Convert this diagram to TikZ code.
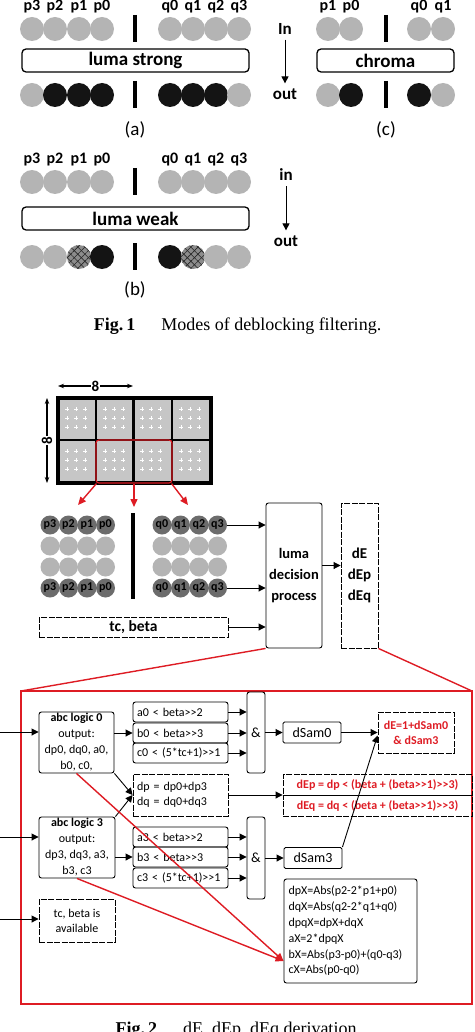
\documentclass[tikz,border=0pt]{standalone}
\usepackage{fontspec}
\setmainfont{Carlito}
\newfontfamily\capserif{Liberation Serif}
\usetikzlibrary{arrows.meta,patterns.meta}
\definecolor{lgray}{RGB}{180,180,180}
\definecolor{cellgray}{RGB}{198,198,198}
\definecolor{dgray}{RGB}{108,108,108}
\definecolor{hgray}{RGB}{140,140,140}
\definecolor{zred}{RGB}{222,28,36}
\newcommand{\fs}[1]{\fontsize{#1}{#1}\selectfont}
\newcommand{\shiftr}{>\kern0pt>}
\tikzset{
  smp/.style={circle,minimum size=24pt,inner sep=0pt,fill=lgray},
  smpblack/.style={smp,fill=black!92},
  smphatch/.style={smp,fill=hgray,
    postaction={pattern={Lines[angle=45,distance=5pt,line width=0.6pt]},pattern color=black!85},
    postaction={pattern={Lines[angle=-45,distance=5pt,line width=0.6pt]},pattern color=black!85}},
  pix/.style={circle,minimum size=19pt,inner sep=0pt,fill=lgray,font=\bfseries\fs{12}},
  pixdark/.style={pix,fill=dgray},
  edgebar/.style={line width=4.5pt},
  lbl/.style={inner sep=0pt,font=\bfseries\fs{16}},
  modebox/.style={draw,line width=1.3pt,rounded corners=4pt,minimum height=23pt,inner sep=0pt,font=\bfseries\fs{19}},
  sub/.style={inner sep=0pt,font=\fs{19}},
  flow/.style={-{Triangle[length=7pt,width=7pt]},line width=0.9pt},
  blk/.style={draw,line width=0.9pt,rounded corners=2.5pt,inner sep=0pt,align=center,font=\fs{12}},
  dblk/.style={blk,dash pattern=on 6pt off 1.5pt,sharp corners},
  cond/.style={blk,minimum width=95pt,minimum height=20pt,text width=87pt,align=left},
  gate/.style={blk,minimum width=18pt,font=\fs{14}},
  redline/.style={draw=zred,line width=1.4pt},
  redflow/.style={-{Triangle[length=8pt,width=7pt]},draw=zred,fill=zred,line width=1.4pt}
}
\begin{document}
\begin{tikzpicture}[x=1pt,y=-1pt]
\useasboundingbox (0,0) rectangle (474,1032);
% (a) luma strong
\foreach \n/\x in {p3/32,p2/55,p1/79,p0/102,q0/170,q1/193,q2/216,q3/239}
  \node[lbl] (al\n) at (\x,7) {\n};
\foreach \n/\x in {p3/32,p2/55,p1/79,p0/102,q0/170,q1/193,q2/216,q3/239}
  \node[smp] (ai\n) at (\x,29) {};
\foreach \n/\x/\s in {p3/32/smp,p2/55/smpblack,p1/79/smpblack,p0/102/smpblack,q0/170/smpblack,q1/193/smpblack,q2/216/smpblack,q3/239/smp}
  \node[\s] (ao\n) at (\x,95) {};
\draw[edgebar] (135,15) -- (135,42);
\draw[edgebar] (135,81) -- (135,108);
\node[modebox,minimum width=227pt] (strong) at (135.5,60.5) {luma strong};
\node[sub] (capa) at (135,130) {(a)};
\node[lbl,font=\bfseries\fs{17}] (ain) at (285,29) {In};
\node[lbl,font=\bfseries\fs{17}] (aout) at (285,94) {out};
\draw[flow,shorten <=5pt,shorten >=5pt] (ain) -- (aout);
% (c) chroma
\foreach \n/\x in {p1/328,p0/351,q0/419,q1/443}
  \node[lbl] (cl\n) at (\x,7) {\n};
\foreach \n/\x in {p1/328,p0/351,q0/419,q1/443}
  \node[smp] (ci\n) at (\x,29) {};
\foreach \n/\x/\s in {p1/328/smp,p0/351/smpblack,q0/419/smpblack,q1/443/smp}
  \node[\s] (co\n) at (\x,95) {};
\draw[edgebar] (386,15) -- (386,42);
\draw[edgebar] (386,81) -- (386,108);
\node[modebox,minimum width=137pt] (chroma) at (385.5,60.5) {chroma};
\node[sub] (capc) at (386,130) {(c)};
% (b) luma weak
\foreach \n/\x in {p3/32,p2/55,p1/79,p0/102,q0/170,q1/193,q2/216,q3/239}
  \node[lbl] (bl\n) at (\x,160) {\n};
\foreach \n/\x in {p3/32,p2/55,p1/79,p0/102,q0/170,q1/193,q2/216,q3/239}
  \node[smp] (bi\n) at (\x,182) {};
\foreach \n/\x/\s in {p3/32/smp,p2/55/smp,p1/79/smphatch,p0/102/smpblack,q0/170/smpblack,q1/193/smphatch,q2/216/smp,q3/239/smp}
  \node[\s] (bo\n) at (\x,257) {};
\draw[edgebar] (135,168) -- (135,195);
\draw[edgebar] (135,243) -- (135,270);
\node[modebox,minimum width=227pt] (weak) at (135.5,218.5) {luma weak};
\node[sub] (capb) at (135,290) {(b)};
\node[lbl,font=\bfseries\fs{17}] (bin) at (286,175) {in};
\node[lbl,font=\bfseries\fs{17}] (bout) at (286,241) {out};
\draw[flow,shorten <=5pt,shorten >=5pt] (bin) -- (bout);
\node[font=\capserif\fs{18}] (cap1) at (237.5,326) {\textbf{Fig.\,1}\hspace{26pt}Modes of deblocking filtering.};
% 8x8 blocks
\fill[cellgray] (58,398) rectangle (211,483);
\foreach \cx in {58,96,133,172}
  \foreach \cy in {398,440}
    \foreach \dx in {9,18,27}
      \foreach \dy in {11,20,29}
        \draw[white,line width=0.9pt] (\cx+\dx-1.8,\cy+\dy) -- ++(3.6,0) (\cx+\dx,\cy+\dy-1.8) -- ++(0,3.6);
\draw[line width=1.3pt] (96,398) -- (96,483) (172,398) -- (172,483) (58,440) -- (211,440);
\draw[line width=3pt] (133,398) -- (133,483);
\draw[line width=4pt] (58,398) rectangle (211,483);
\node[draw=zred,line width=1.2pt,rounded corners=3pt,minimum width=76pt,minimum height=43pt,inner sep=0pt] (sel) at (134,461.5) {};
\draw[{Stealth[length=6pt]}-{Stealth[length=6pt]},line width=1.1pt] (58,386) -- node[fill=white,inner sep=1pt,font=\bfseries\fs{15}] (w8) {8} (133,386);
\draw[{Stealth[length=6pt]}-{Stealth[length=6pt]},line width=1.1pt] (47,398) -- node[fill=white,inner sep=1pt,rotate=90,font=\bfseries\fs{15}] (h8) {8} (47,483);
\coordinate (selL) at (78,505);
\coordinate (selM) at (134,507);
\coordinate (selR) at (188,505);
\draw[redflow] ([xshift=1pt]sel.south west) -- (selL);
\draw[redflow] (sel.south) -- (selM);
\draw[redflow] ([xshift=-1pt]sel.south east) -- (selR);
% samples across the edge
\foreach \n/\x in {p3/50,p2/68.5,p1/87,p0/105.5,q0/162,q1/180.5,q2/199,q3/217.5} {
  \node[pix] (sb\n) at (\x,546) {};
  \node[pix] (sc\n) at (\x,567) {};
  \node[pixdark] (sa\n) at (\x,525) {\n};
  \node[pixdark] (sd\n) at (\x,588) {\n};
}
\draw[edgebar] (133,513) -- (133,599);
\node[dblk,minimum width=189pt,minimum height=20pt,font=\bfseries\fs{15.5}] (tcb) at (133.5,627) {tc, beta};
\node[blk,minimum width=56pt,minimum height=145pt,text width=56pt,font=\bfseries\fontsize{14.5}{21}\selectfont] (luma) at (294,575.5) {luma\\decision\\process};
\node[dblk,minimum width=37pt,minimum height=145pt,text width=37pt,font=\bfseries\fontsize{15}{21}\selectfont] (dout) at (359.5,575.5) {dE\\dEp\\dEq};
\draw[flow] (saq3.east) -- (saq3.east -| luma.west);
\draw[flow] (sdq3.east) -- (sdq3.east -| luma.west);
\draw[flow] (tcb.east) -- (tcb.east -| luma.west);
\draw[flow] ([yshift=10pt]luma.east) -- ([yshift=10pt]dout.west);
% zoom into the decision process
\coordinate (zl) at (21,691);
\coordinate (zr) at (472,691);
\draw[redline] (luma.south west) -- (zl);
\draw[redline] (dout.south east) -- (zr);
\draw[draw=zred,line width=1.8pt] (21,691) rectangle (472,1004);
\node[blk,minimum width=75pt,minimum height=61pt,font=\fontsize{12}{16}\selectfont] (abc0) at (76.5,742.5) {\textbf{abc logic 0}\\output:\\dp0, dq0, a0,\\b0, c0,};
\node[blk,minimum width=76pt,minimum height=61pt,font=\fontsize{12}{16}\selectfont] (abc3) at (77,847.5) {\textbf{abc logic 3}\\output:\\dp3, dq3, a3,\\b3, c3};
\node[dblk,minimum width=76pt,minimum height=43pt,font=\fontsize{12}{15}\selectfont] (tcav) at (77,920.5) {tc, beta is\\available};
\node[cond] (a0) at (180.5,712) {a0 < beta\shiftr2};
\node[cond] (b0) at (180.5,733) {b0 < beta\shiftr3};
\node[cond] (c0) at (180.5,753) {c0 < (5*tc+1)\shiftr1};
\node[cond] (a3) at (180.5,837) {a3 < beta\shiftr2};
\node[cond] (b3) at (180.5,857) {b3 < beta\shiftr3};
\node[cond] (c3) at (180.5,878) {c3 < (5*tc+1)\shiftr1};
\node[dblk,minimum width=95pt,minimum height=42pt,text width=87pt,align=left,font=\fontsize{12}{15}\selectfont] (dp) at (180.5,795) {dp = dp0+dp3\\dq = dq0+dq3};
\node[gate,minimum height=81pt] (and0) at (256,732.5) {\&};
\node[gate,minimum height=82pt] (and3) at (256,858) {\&};
\node[blk,rounded corners=1.5pt,minimum width=58pt,minimum height=21pt,font=\fs{14}] (dsam0) at (312,732.5) {dSam0};
\node[blk,rounded corners=1.5pt,minimum width=58pt,minimum height=21pt,font=\fs{14}] (dsam3) at (313,858) {dSam3};
\node[dblk,minimum width=76pt,minimum height=41pt,text=zred,font=\bfseries\fontsize{12}{15}\selectfont] (dE) at (416,732.5) {dE=1+dSam0\\\& dSam3};
\node[dblk,minimum width=189pt,minimum height=21pt,text=zred,font=\bfseries\fs{12}] (dEp) at (377.5,784.5) {dEp = dp < (beta + (beta\shiftr1)\shiftr3)};
\node[dblk,minimum width=189pt,minimum height=21pt,text=zred,font=\bfseries\fs{12}] (dEq) at (377.5,805.5) {dEq = dq < (beta + (beta\shiftr1)\shiftr3)};
\draw[line width=0.9pt] (dEp.south west) -- (dEp.south east);
\node[blk,minimum width=133pt,minimum height=104pt,text width=124pt,align=left,font=\fontsize{12}{15.8}\selectfont] (fx) at (350.5,931) {dpX=Abs(p2-2*p1+p0)\\dqX=Abs(q2-2*q1+q0)\\dpqX=dpX+dqX\\aX=2*dpqX\\bX=Abs(p3-p0)+(q0-q3)\\cX=Abs(p0-q0)};
\coordinate (in0) at (0,732);
\coordinate (in3) at (0,837);
\coordinate (intc) at (0,919);
\draw[flow] (in0) -- (in0 -| abc0.west);
\draw[flow] (in3) -- (in3 -| abc3.west);
\draw[flow] (intc) -- (intc -| tcav.west);
\draw[flow] (abc0.east |- b0) -- (b0.west);
\draw[flow] (abc3.east |- b3) -- (b3.west);
\foreach \c in {a0,b0,c0} \draw[flow] (\c.east) -- (\c.east -| and0.west);
\foreach \c in {a3,b3,c3} \draw[flow] (\c.east) -- (\c.east -| and3.west);
\draw[flow] (and0) -- (dsam0);
\draw[flow] (and3) -- (dsam3);
\draw[flow] (dsam0) -- (dE);
\draw[flow] (abc0.south east) -- (dp.west);
\draw[flow] (abc3.north east) -- (dp.west);
\draw[flow] (dp.east) -- (dp.east -| dEp.west);
\draw[flow] (dsam3.north east) -- ([yshift=-3pt]dE.west);
\draw[redflow] (abc0.south) -- ([yshift=-30pt]fx.west);
\draw[redflow] (abc3.south) -- ([yshift=-30pt]fx.west);
\node[font=\capserif\fs{18},anchor=base] (cap2) at (236,1034) {\textbf{Fig.\,2}\hspace{26pt}dE, dEp, dEq derivation};
\end{tikzpicture}
\end{document}
